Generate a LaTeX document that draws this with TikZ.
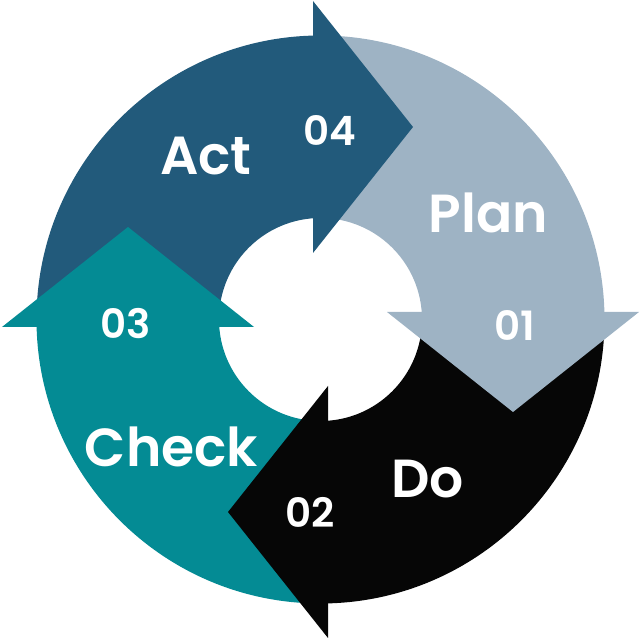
\documentclass[tikz,border=0pt]{standalone}
\usepackage{fontspec}
\setmainfont{Poppins}[BoldFont={Poppins SemiBold}]
\definecolor{plangray}{HTML}{9EB3C4}
\definecolor{doblack}{HTML}{060606}
\definecolor{checkteal}{HTML}{048B94}
\definecolor{actblue}{HTML}{225A7B}

\begin{document}
\begin{tikzpicture}[scale=0.02,
  word/.style={text=white, anchor=base, inner sep=0pt,
    font=\fontsize{30.5}{30.5}\selectfont\bfseries},
  num/.style={text=white, anchor=base, inner sep=0pt,
    font=\fontsize{23}{23}\selectfont\bfseries}]
  \useasboundingbox (-320.5,-319.5) rectangle (319.5,319.5);
  % ring quarters
  \fill[plangray] (90:284) arc[start angle=90, end angle=0, radius=284]
    -- (0:101.5) arc[start angle=0, end angle=90, radius=101.5] -- cycle;
  \fill[doblack] (0:284) arc[start angle=0, end angle=-90, radius=284]
    -- (-90:101.5) arc[start angle=-90, end angle=0, radius=101.5] -- cycle;
  \fill[checkteal] (-90:284) arc[start angle=-90, end angle=-180, radius=284]
    -- (180:101.5) arc[start angle=180, end angle=270, radius=101.5] -- cycle;
  \fill[actblue] (180:284) arc[start angle=180, end angle=90, radius=284]
    -- (90:101.5) arc[start angle=90, end angle=180, radius=101.5] -- cycle;
  % arrow heads
  \fill[actblue] (-7.5,66.5) -- (-7.5,318.5) -- (92.5,192.5) -- cycle;
  \fill[plangray] (66.5,7.5) -- (318.5,7.5) -- (192.5,-92.5) -- cycle;
  \fill[doblack] (7.5,-66.5) -- (7.5,-318.5) -- (-92.5,-192.5) -- cycle;
  \fill[checkteal] (-66.5,-7.5) -- (-318.5,-7.5) -- (-192.5,92.5) -- cycle;
  % labels
  \node[word] (plan) at (168,86.5) {Plan};
  \node[word] (do) at (107,-178.5) {Do};
  \node[word] (check) at (-149,-147.5) {Check};
  \node[word] (act) at (-114.5,144.5) {Act};
  \node[num] (n01) at (194.5,-21.5) {01};
  \node[num] (n02) at (-10.5,-208.5) {02};
  \node[num] (n03) at (-194.5,-19.5) {03};
  \node[num] (n04) at (9.5,173.5) {04};
\end{tikzpicture}
\end{document}
